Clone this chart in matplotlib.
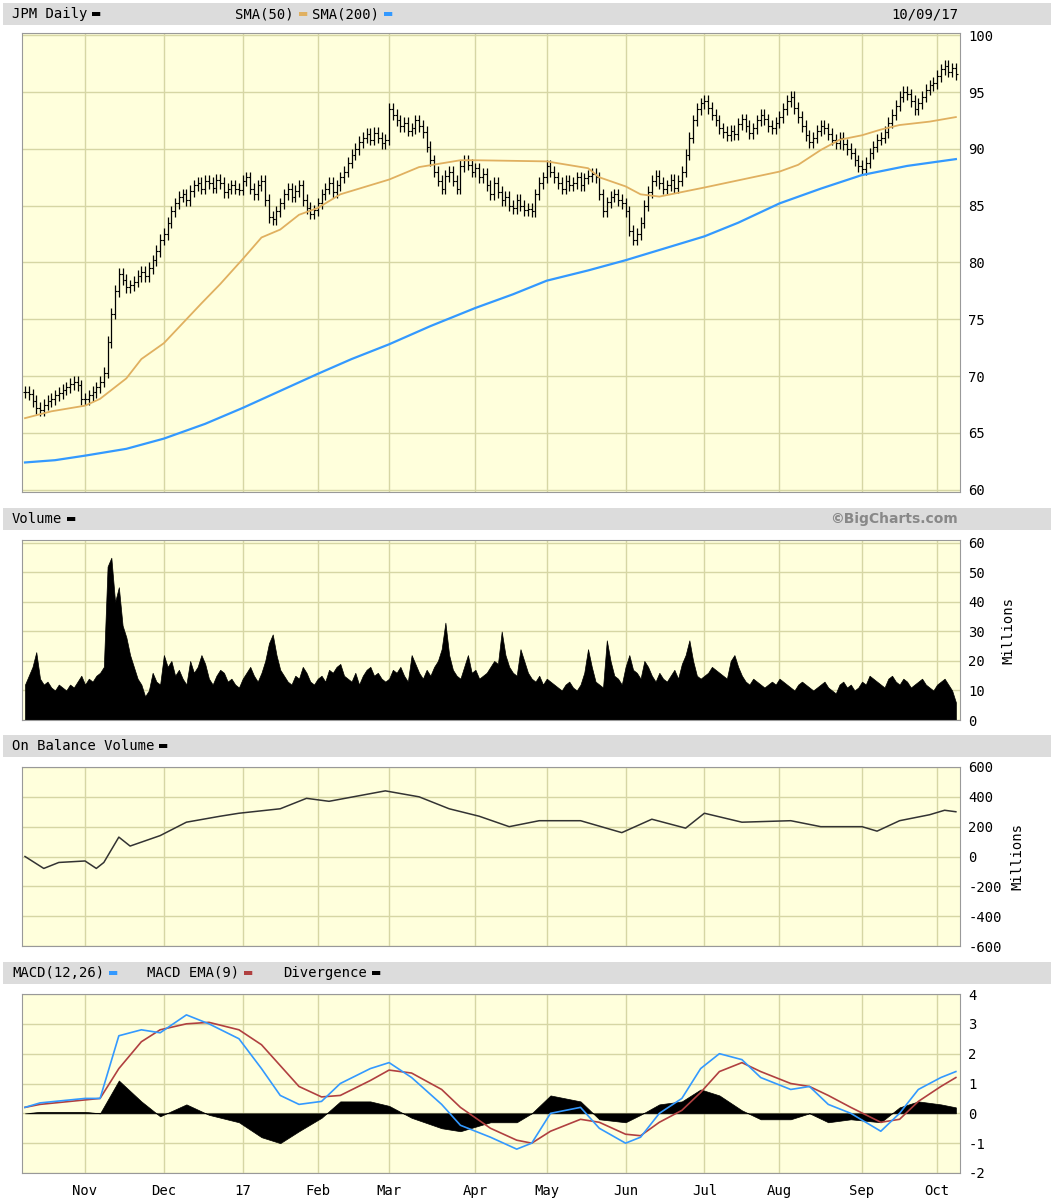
import numpy as np
import matplotlib
matplotlib.use("Agg")
import matplotlib.pyplot as plt
from matplotlib.patches import Rectangle

closes = [68.6,68.4,67.8,67.2,67.0,67.5,67.8,68.0,68.3,68.5,68.8,69.0,69.3,69.5,69.2,68.0,
 68.0,68.3,68.6,69.0,69.5,70.3,
 73.0,75.5,77.5,79.0,78.5,77.8,78.0,78.3,78.8,79.2,78.8,79.5,80.2,81.0,82.0,
 82.5,83.5,84.5,85.2,85.8,86.0,85.5,86.3,86.8,87.0,86.5,87.2,87.0,86.6,87.3,87.0,86.2,86.5,86.8,86.5,86.4,
 87.2,87.5,86.5,86.0,86.8,87.2,85.5,84.0,83.8,84.5,85.2,86.0,86.5,85.8,86.3,86.8,85.5,84.8,84.3,84.6,
 85.2,86.0,86.5,87.0,86.2,86.8,87.5,88.0,88.8,89.5,90.0,90.6,91.0,91.3,90.8,91.4,91.0,90.5,90.8,
 93.5,93.0,92.5,92.0,92.3,91.6,91.8,92.5,92.0,91.5,90.2,89.0,88.0,87.2,86.5,87.6,88.0,87.2,86.5,88.5,89.0,88.6,88.0,
 88.3,87.5,87.8,86.8,86.0,87.0,86.2,85.5,85.8,85.0,84.8,85.5,85.0,84.6,84.7,84.5,86.0,87.0,87.5,
 88.5,88.0,87.5,87.0,86.5,87.2,86.8,87.0,87.5,86.8,87.4,87.6,87.8,87.5,86.0,84.5,85.3,85.8,86.0,85.5,85.2,
 84.5,82.8,82.0,82.5,83.5,85.0,86.2,87.2,87.6,87.0,86.5,86.8,87.3,86.6,87.2,88.0,89.5,91.0,92.5,93.5,94.0,
 94.2,93.6,93.0,92.5,91.8,91.5,91.2,91.6,91.3,92.2,92.6,92.0,91.4,91.8,92.5,93.0,92.6,92.0,91.8,92.3,
 92.8,93.5,94.2,94.6,93.6,92.8,92.0,91.2,90.6,91.0,91.6,92.0,91.8,91.3,90.8,90.5,91.0,90.4,90.0,89.6,89.0,88.5,
 88.2,88.8,89.6,90.2,90.8,91.0,91.5,92.3,93.0,93.8,94.6,95.0,94.8,94.2,93.5,94.0,94.6,95.2,95.6,95.8,
 96.4,97.0,97.3,96.8,97.1,96.6]

volume = [12,15,18,23,14,12,13,11,10,12,11,10,12,11,13,15,
 12,14,13,15,16,18,
 52,55,40,45,32,28,22,18,14,12,8,10,16,13,12,
 22,18,20,15,17,14,12,20,16,18,22,19,14,12,15,17,16,13,14,12,11,
 14,16,18,15,13,16,20,26,29,22,17,15,13,12,15,14,18,16,13,12,
 14,15,13,17,16,18,19,15,14,13,16,12,15,17,18,15,16,14,13,
 14,17,16,18,15,13,22,19,16,14,17,15,18,20,24,33,22,17,15,14,18,22,16,
 17,14,15,16,18,20,19,30,22,18,16,15,24,20,16,14,13,15,12,
 14,13,12,11,10,12,13,11,10,12,16,24,18,13,12,11,27,20,15,14,12,
 18,22,17,16,14,20,18,15,13,16,14,13,15,17,14,19,22,27,20,15,14,
 15,16,18,17,16,15,14,20,22,18,15,13,12,14,13,12,11,12,13,12,
 14,13,12,11,10,12,13,12,11,10,11,12,13,11,10,9,12,13,11,12,10,11,
 13,12,15,14,13,12,11,14,15,13,12,14,13,11,12,13,14,12,11,10,
 12,13,14,12,10,6]

sma50_idx = [0,7,16,20,27,31,37,47,52,58,63,68,73,78,84,97,105,116,120,139,150,153,160,164,169,181,191,201,206,212,217,223,228,233,241,248]
sma50 = [66.3,66.9,67.4,68.0,69.8,71.5,72.9,76.4,78.1,80.3,82.2,82.9,84.2,84.8,86.0,87.3,88.4,89.0,89.0,88.9,88.3,87.5,86.7,86.0,85.8,86.6,87.3,88.0,88.6,89.9,90.8,91.2,91.7,92.1,92.4,92.8]
sma200_idx = [0,8,16,27,37,48,58,68,78,87,97,108,120,130,139,150,160,170,181,190,201,212,223,235,248]
sma200 = [62.4,62.6,63.0,63.6,64.5,65.8,67.2,68.7,70.2,71.5,72.8,74.4,76.0,77.2,78.4,79.3,80.2,81.2,82.3,83.5,85.2,86.5,87.7,88.5,89.1]

obv_idx = [0,5,9,16,19,21,25,28,36,43,52,57,68,75,81,96,105,113,121,129,137,148,159,167,176,181,191,204,212,223,227,233,241,245,248]
obv = [0,-80,-40,-30,-80,-40,130,70,140,230,270,290,320,390,370,440,400,320,270,200,240,240,160,250,190,290,230,240,200,200,170,240,280,310,300]

macd_idx = [0,4,16,20,25,31,36,43,49,57,63,68,73,79,84,92,97,103,111,116,124,131,135,140,148,153,160,164,169,175,180,185,191,196,204,209,214,220,228,233,238,244,248]
macd = [.2,.35,.5,.5,2.6,2.8,2.7,3.3,3.0,2.5,1.5,.6,.3,.4,1.0,1.5,1.7,1.2,.3,-.4,-.8,-1.2,-1.0,0.0,.2,-.5,-1.0,-.8,0.0,.5,1.5,2.0,1.8,1.2,.8,.9,.3,0.0,-.6,0.0,.8,1.2,1.4]
signal = [.2,.3,.45,.5,1.5,2.4,2.8,3.0,3.05,2.8,2.3,1.6,.9,.55,.6,1.1,1.45,1.35,.8,.2,-.5,-.9,-1.0,-.6,-.2,-.3,-.7,-.75,-.3,.1,.7,1.4,1.7,1.4,1.0,.9,.6,.2,-.3,-.2,.4,.9,1.2]

month_idx = [16,37,58,78,97,120,139,160,181,201,223,243]
month_lbl = ["Nov","Dec","17","Feb","Mar","Apr","May","Jun","Jul","Aug","Sep","Oct"]

BG = "#FFFFDC"; GRID = "#D6D6A4"; HDR = "#DCDCDC"
MONO = "DejaVu Sans Mono"
W, H = 1054, 1200
fig = plt.figure(figsize=(10.54, 12), dpi=100)
fig.patch.set_facecolor("white")
renderer = fig.canvas.get_renderer()

def rect(y0, y1):
    return [22/W, 1-y1/H, 938/W, (y1-y0)/H]

def header(y0, y1, items, right=None):
    fig.patches.append(Rectangle((3/W, 1-y1/H), 1048/W, (y1-y0)/H, transform=fig.transFigure,
                                 facecolor=HDR, edgecolor="none", zorder=0))
    yc = 1-(y0+y1)/2/H
    for x, t, c in items:
        tx = fig.text(x/W, yc, t, family=MONO, fontsize=10, va="center", color="black")
        wpx = tx.get_window_extent(renderer).width
        fig.text((x + wpx + 5)/W, yc, "▬", family=MONO, fontsize=10, va="center", color=c)
    if right:
        fig.text(958/W, yc, right[0], ha="right", va="center", fontsize=10, color=right[1],
                 family=right[2], weight=right[3])

def style(ax, ylim, yticks, ylabels):
    ax.set_facecolor(BG)
    ax.set_xlim(-0.8, 249.1)
    ax.set_ylim(*ylim)
    ax.set_xticks(month_idx)
    ax.set_yticks(yticks)
    ax.set_yticklabels(ylabels, family=MONO, fontsize=10)
    ax.yaxis.tick_right()
    ax.tick_params(length=0, pad=6)
    ax.grid(True, color=GRID, lw=1)
    ax.set_axisbelow(True)
    for s in ax.spines.values():
        s.set_color("#999999"); s.set_lw(0.8)

x = np.arange(len(closes))
c = np.array(closes)
o = np.concatenate([[c[0]], c[:-1]])
hi = np.maximum(o, c) + 0.5
lo = np.minimum(o, c) - 0.5

# Price
ax1 = fig.add_axes(rect(33, 492))
style(ax1, (59.8, 100.2), range(60, 101, 5), [str(v) for v in range(60, 101, 5)])
ax1.set_xticklabels([])
ax1.vlines(x, lo, hi, color="black", lw=0.9)
ax1.hlines(o, x-0.5, x, color="black", lw=0.8)
ax1.hlines(c, x, x+0.5, color="black", lw=0.8)
ax1.plot(sma50_idx, sma50, color="#E0B060", lw=1.3)
ax1.plot(sma200_idx, sma200, color="#3399FF", lw=1.6)
header(3, 25, [(12, "JPM Daily", "black"), (235, "SMA(50)", "#E0B060"), (312, "SMA(200)", "#3399FF")],
       right=("10/09/17", "black", MONO, "normal"))

# Volume
ax2 = fig.add_axes(rect(540, 720))
style(ax2, (0, 61), range(0, 61, 10), [str(v) for v in range(0, 61, 10)])
ax2.set_xticklabels([])
ax2.fill_between(x, volume, 0, color="black", lw=0.5)
ax2.set_ylabel("Millions", family=MONO, fontsize=10, rotation=90, labelpad=12)
ax2.yaxis.set_label_position("right")
header(508, 530, [(12, "Volume", "black")], right=("©BigCharts.com", "#888888", "DejaVu Sans", "bold"))

# OBV
ax3 = fig.add_axes(rect(767, 946))
style(ax3, (-600, 600), range(-600, 601, 200), [str(v) for v in range(-600, 601, 200)])
ax3.set_xticklabels([])
ax3.plot(obv_idx, obv, color="#333333", lw=1.1)
ax3.set_ylabel("Millions", family=MONO, fontsize=10, rotation=90, labelpad=6)
ax3.yaxis.set_label_position("right")
header(735, 757, [(12, "On Balance Volume", "black")])

# MACD
ax4 = fig.add_axes(rect(994, 1173))
style(ax4, (-2, 4), range(-2, 5), [str(v) for v in range(-2, 5)])
ax4.set_xticklabels(month_lbl, family=MONO, fontsize=10)
ax4.tick_params(axis="x", pad=8)
div = np.array(macd) - np.array(signal)
ax4.fill_between(macd_idx, div, 0, color="black", lw=0.5)
ax4.plot(macd_idx, signal, color="#B04040", lw=1.2)
ax4.plot(macd_idx, macd, color="#3399FF", lw=1.2)
header(962, 984, [(12, "MACD(12,26)", "#3399FF"), (147, "MACD EMA(9)", "#B04040"), (283, "Divergence", "black")])

fig.savefig("out.png", dpi=100, facecolor="white")
